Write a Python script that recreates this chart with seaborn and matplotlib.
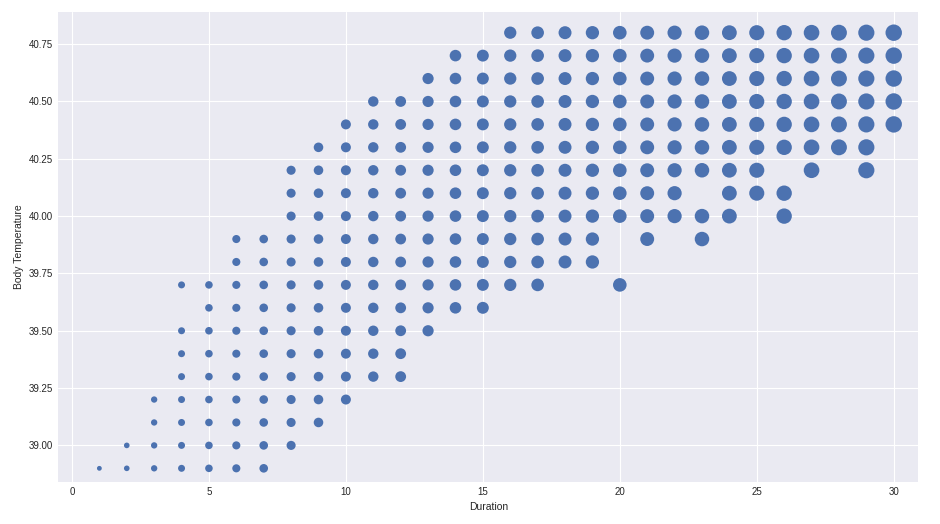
import numpy as np
import pandas as pd
import seaborn as sns
import matplotlib.pyplot as plt

# durations and the body temperature band observed at each one (low, high)
durations = list(range(1, 31))
temp_low = [38.9, 38.9, 38.9, 38.9, 38.9, 38.9, 38.9, 39.0, 39.1, 39.2,
            39.3, 39.3, 39.5, 39.6, 39.6, 39.7, 39.7, 39.8, 39.8, 39.7,
            39.9, 40.0, 39.9, 40.0, 40.1, 40.0, 40.2, 40.3, 40.2, 40.4]
temp_high = [38.9, 39.0, 39.2, 39.7, 39.7, 39.9, 39.9, 40.2, 40.3, 40.4,
             40.5, 40.5, 40.6, 40.7, 40.7, 40.8, 40.8, 40.8, 40.8, 40.8,
             40.8, 40.8, 40.8, 40.8, 40.8, 40.8, 40.8, 40.8, 40.8, 40.8]
# temperatures missing inside the band
gaps = {4: [39.6], 20: [39.8, 39.9], 21: [], 23: [40.1],
        26: [40.2], 27: [40.0, 40.1], 28: [40.0, 40.1, 40.2],
        29: [40.0, 40.1]}

rows = []
for d, lo, hi in zip(durations, temp_low, temp_high):
    t = lo
    while t <= hi + 1e-9:
        tt = round(t, 1)
        if tt not in gaps.get(d, []):
            rows.append((d, tt))
        t += 0.1
df = pd.DataFrame(rows, columns=['Duration', 'Body Temperature'])

plt.style.use('seaborn-v0_8-darkgrid')
fig, ax = plt.subplots(figsize=(9.4, 5.24), dpi=100)
sns.scatterplot(data=df, x='Duration', y='Body Temperature', size='Duration',
                sizes=(12, 140), color='#4c72b0', edgecolor='none',
                legend=False, ax=ax)
ax.set_xlim(-0.5, 30.9)
ax.set_ylim(38.84, 40.89)
ax.set_yticks([39.0, 39.25, 39.5, 39.75, 40.0, 40.25, 40.5, 40.75])
ax.set_yticklabels(['39.00', '39.25', '39.50', '39.75', '40.00', '40.25', '40.50', '40.75'])
ax.tick_params(labelsize=7)
ax.set_xlabel('Duration', fontsize=7.5)
ax.set_ylabel('Body Temperature', fontsize=7.5)
fig.subplots_adjust(left=0.062, right=0.977, top=0.977, bottom=0.08)
fig.savefig('out.png')
